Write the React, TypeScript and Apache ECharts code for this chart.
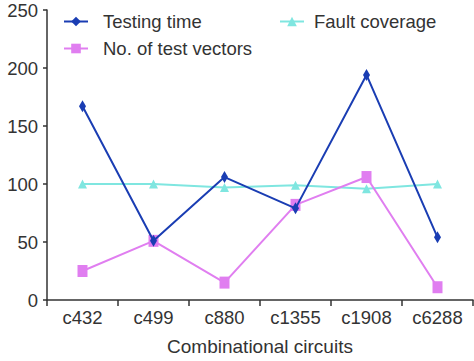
import React, { useEffect, useRef } from "react";
import * as echarts from "echarts";

const categories = ["c432", "c499", "c880", "c1355", "c1908", "c6288"];
const testingTime = [167, 51, 106, 79, 194, 54];
const testVectors = [25, 51, 15, 82, 106, 11];
const faultCoverage = [100, 100, 97, 99, 96, 100];
const yTicks = { min: 0, max: 250, interval: 50 };

const FONT = "'Liberation Sans', Arial, sans-serif";
const TEXT = "#333333";

export default function App() {
  const ref = useRef<HTMLDivElement>(null);
  useEffect(() => {
    const chart = echarts.init(ref.current!, undefined, { renderer: "svg" });
    const legendText = (pad: number) => ({ fontFamily: FONT, fontSize: 18.5, color: TEXT, padding: [0, 0, 0, pad] });
    chart.setOption({
      animation: false,
      textStyle: { fontFamily: FONT },
      grid: { left: 47, right: 1, top: 10, bottom: 59 },
      legend: [
        { data: ["Testing time"], left: 58, top: 7, itemWidth: 24, itemHeight: 12, textStyle: legendText(10) },
        { data: ["Fault coverage"], left: 274, top: 7, itemWidth: 24, itemHeight: 12, textStyle: legendText(5) },
        { data: ["No. of test vectors"], left: 58, top: 34, itemWidth: 24, itemHeight: 12, textStyle: legendText(10) },
      ],
      xAxis: {
        type: "category",
        data: categories,
        boundaryGap: true,
        axisLine: { lineStyle: { color: TEXT, width: 1.5 } },
        axisTick: { show: true, length: 6, lineStyle: { color: TEXT, width: 1.5 } },
        axisLabel: { fontFamily: FONT, fontSize: 18.5, color: TEXT, margin: 8 },
        name: "Combinational circuits",
        nameLocation: "middle",
        nameGap: 37,
        nameTextStyle: { fontFamily: FONT, fontSize: 19, color: TEXT },
      },
      yAxis: {
        type: "value",
        min: yTicks.min,
        max: yTicks.max,
        interval: yTicks.interval,
        splitLine: { show: false },
        axisLine: { show: true, lineStyle: { color: TEXT, width: 1.5 } },
        axisTick: { show: true, length: 4, lineStyle: { color: TEXT, width: 1.5 } },
        axisLabel: { fontFamily: FONT, fontSize: 18.5, color: TEXT, margin: 9 },
      },
      series: [
        {
          name: "Testing time",
          type: "line",
          data: testingTime,
          symbol: "diamond",
          symbolSize: [7, 12],
          lineStyle: { color: "#1a3db3", width: 2 },
          itemStyle: { color: "#1a3db3" },
          z: 3,
        },
        {
          name: "Fault coverage",
          type: "line",
          data: faultCoverage,
          symbol: "triangle",
          symbolSize: [9, 9],
          lineStyle: { color: "#7fe6e0", width: 2 },
          itemStyle: { color: "#7fe6e0" },
          z: 2,
        },
        {
          name: "No. of test vectors",
          type: "line",
          data: testVectors,
          symbol: "rect",
          symbolSize: [10, 12],
          lineStyle: { color: "#e07ef0", width: 2 },
          itemStyle: { color: "#e07ef0" },
          z: 2,
        },
      ],
    });
    return () => chart.dispose();
  }, []);
  return <div ref={ref} style={{ width: 474, height: 361, position: "absolute", left: 0, top: 0 }} />;
}
